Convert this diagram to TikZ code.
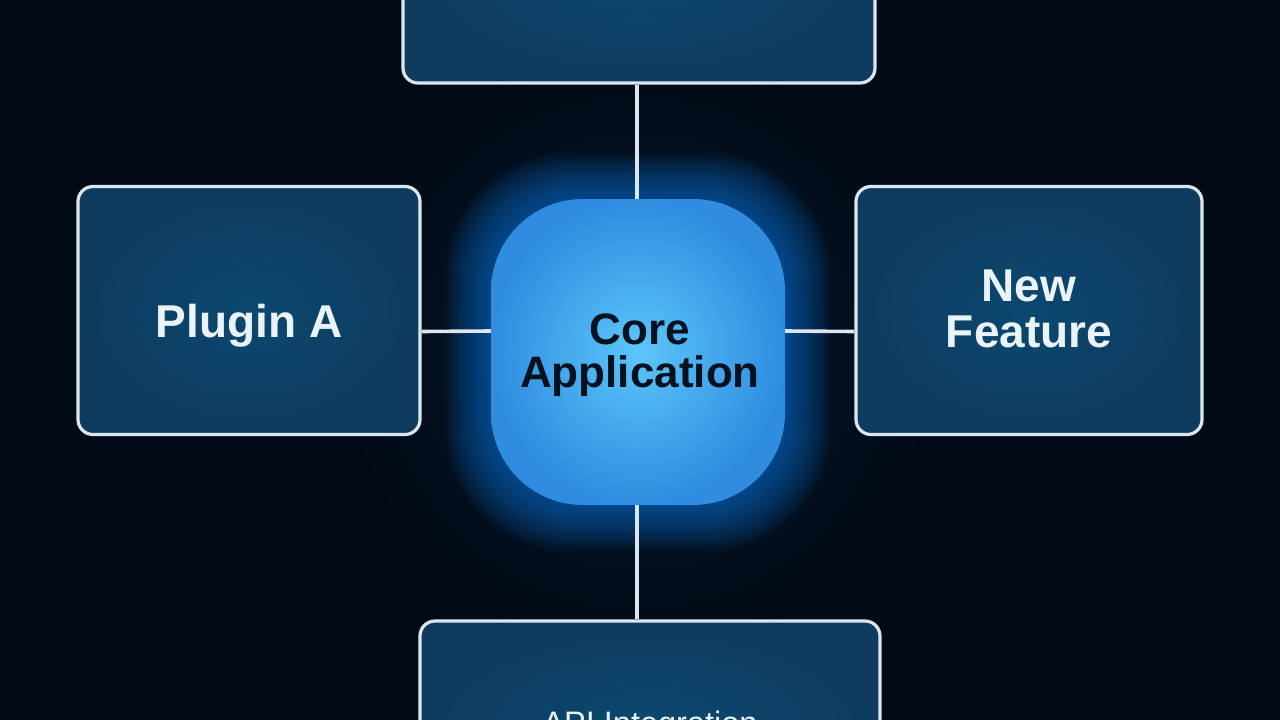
\documentclass[tikz,border=0pt]{standalone}
\usepackage{fontspec}
\setmainfont{Liberation Sans}
\usepackage{xcolor}
\usetikzlibrary{positioning,calc}
\definecolor{pagedark}{HTML}{020A15}
\definecolor{pagemid}{HTML}{041B33}
\definecolor{halo}{HTML}{0F6FD0}
\definecolor{boxedge}{HTML}{DCE6EE}
\definecolor{boxmid}{HTML}{0C4870}
\definecolor{boxrim}{HTML}{0E3B5E}
\definecolor{boxtext}{HTML}{EAF3F8}
\definecolor{coremid}{HTML}{5CC6FA}
\definecolor{corerim}{HTML}{2F8CDF}
\definecolor{coretext}{HTML}{04111F}
\tikzset{
    panel/.style={draw=boxedge, line width=3.2pt, rounded corners=15pt, inner sep=0pt,
        inner color=boxmid, outer color=boxrim},
    paneltext/.style={text=boxtext, align=center, inner sep=0pt, font=\fontsize{46}{46}\selectfont\bfseries},
    link/.style={draw=boxedge, line width=3.6pt},
}
\begin{document}
\begin{tikzpicture}[x=1pt, y=-1pt]
    \useasboundingbox (0,0) rectangle (1280,720);
    \clip (0,0) rectangle (1280,720);
    \fill[pagedark] (0,0) rectangle (1280,720);
    \fill[inner color=pagemid, outer color=pagedark] (638,352) circle (300);
    
    % Glow
    \foreach \r in {3,6,...,45} {
        \fill[halo, fill opacity=0.06, rounded corners={(92+0.6*\r)*1pt}]
            ({491-\r},{199-\r}) rectangle ({785+\r},{505+\r});
    }
    
    % Boxes
    \node[panel, minimum width=472pt, minimum height=220pt] (topbox) at (639,-27) {};
    \node[panel, minimum width=342pt, minimum height=248pt] (pluginA) at (249,310.5) {};
    \node[panel, minimum width=346pt, minimum height=248pt] (newFeature) at (1029,310.5) {};
    \node[panel, minimum width=460pt, minimum height=210pt] (apiBox) at (650,726) {};
    \node[inner color=coremid, outer color=corerim, rounded corners=92pt, minimum width=294pt, minimum height=306pt] (core) at (638,352) {};
    
    % Labels
    \node[paneltext, yshift=-15pt] (pluginLabel) at (pluginA) {Plugin A};
    \node[paneltext, yshift=2pt] (featureLabel) at (newFeature) {New\\Feature};
    \node[paneltext, font=\fontsize{32.5}{36}\selectfont] (apiLabel) at (apiBox) {API Integration};
    \node[paneltext, text=coretext, xshift=2pt, yshift=-3pt, font=\fontsize{44}{43}\selectfont\bfseries] (coreLabel) at (core) {Core\\Application};
    
    % Links
    \draw[link] ([xshift=-2pt]topbox.south) -- ([xshift=-1pt]core.north);
    \draw[link] ([xshift=-1pt]core.south) -- ([xshift=-13pt]apiBox.north);
    \draw[link] ([yshift=-21pt]pluginA.east |- pluginA.center) -- ([yshift=21pt]core.west);
    \draw[link] ([yshift=21pt]core.east) -- ([yshift=-21pt]newFeature.west);
\end{tikzpicture}
\end{document}
